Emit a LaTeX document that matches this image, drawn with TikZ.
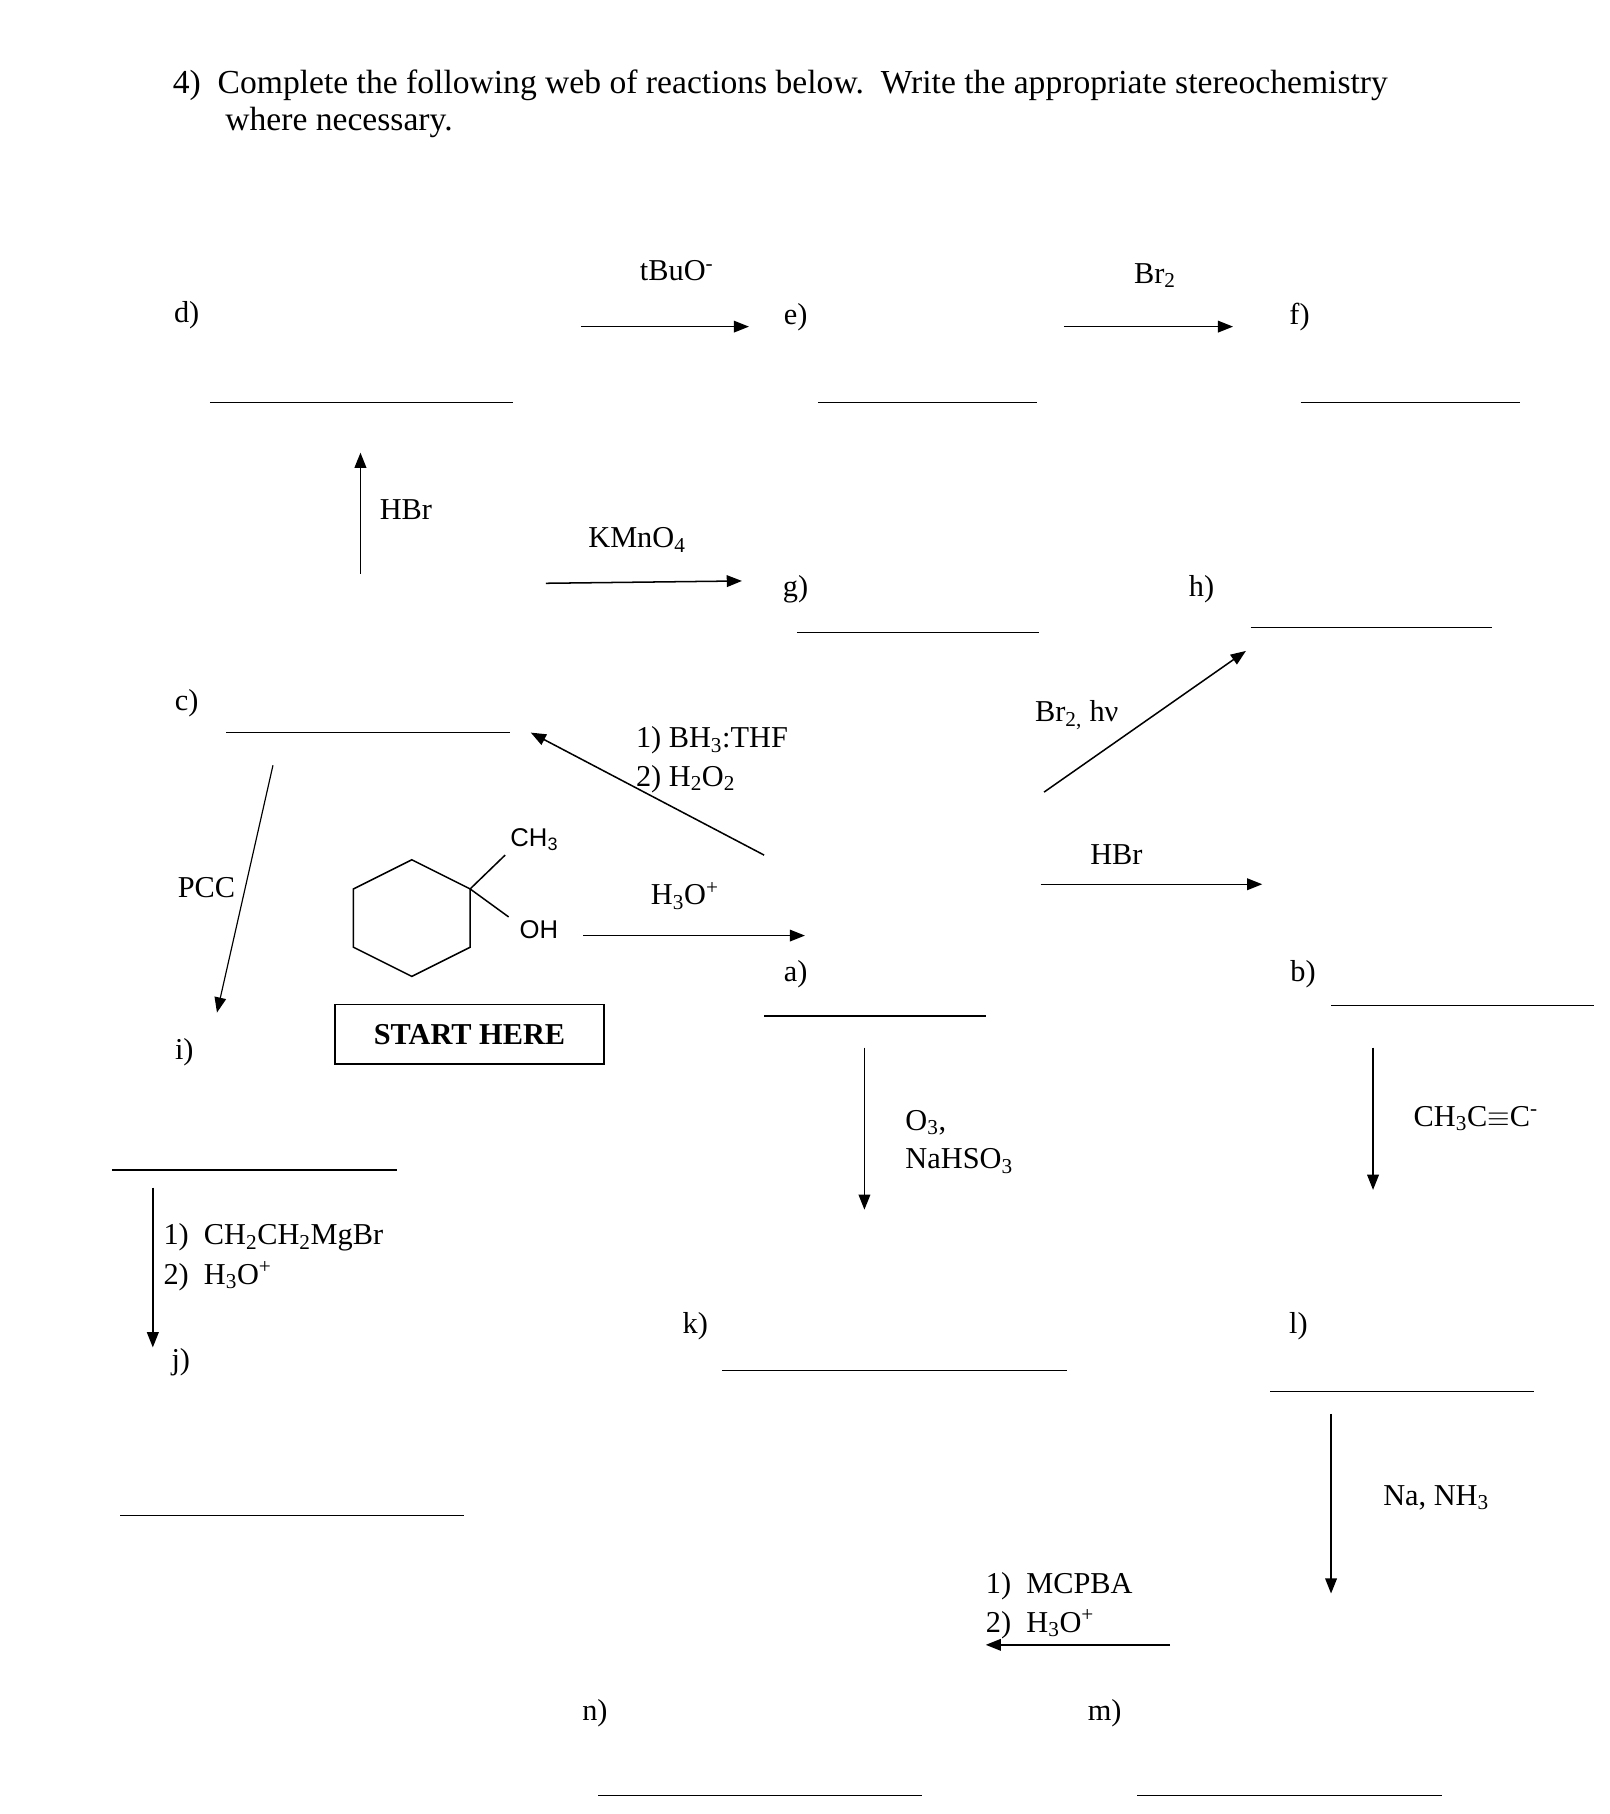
\documentclass[tikz,border=0pt]{standalone}
\usepackage{fontspec}
\setmainfont{Liberation Serif}
\newfontfamily\chemsans{Liberation Sans}
\usetikzlibrary{arrows.meta}
\newcommand{\sbs}[1]{\textsubscript{#1}}
\newcommand{\sps}[1]{\textsuperscript{#1}}
\begin{document}
\begin{tikzpicture}[x=1pt,y=-1pt,
  t/.style={font=\fontsize{28.8}{32}\selectfont,inner sep=0pt},
  lb/.style={font=\fontsize{26}{30}\selectfont,inner sep=0pt},
  ch/.style={font=\chemsans\fontsize{22}{26}\selectfont,inner sep=0pt},
  ar/.style={line width=1.3pt,-{Triangle[length=13pt,width=10pt]}},
  bl/.style={line width=1.3pt}]
\useasboundingbox (0,0) rectangle (1380,1555);
\node[t,anchor=base west] (tt1) at (148,80) {4)\ \ Complete the following web of reactions below.\ \ Write the appropriate stereochemistry};
\node[t,anchor=base west] (tt2) at (193,112) {where necessary.};
% blanks and labels
\node[lb] (ld) at (160,270) {d)};
\coordinate (d1) at (180,345); \coordinate (d2) at (440,345); \draw[bl] (d1)--(d2);
\node[lb] (le) at (682,272) {e)};
\coordinate (e1) at (701,345); \coordinate (e2) at (889,345); \draw[bl] (e1)--(e2);
\node[lb] (lf) at (1114,272) {f)};
\coordinate (f1) at (1115,345); \coordinate (f2) at (1303,345); \draw[bl] (f1)--(f2);
\node[lb] (lg) at (682,505) {g)};
\coordinate (g1) at (683,542); \coordinate (g2) at (891,542); \draw[bl] (g1)--(g2);
\node[lb] (lh) at (1030,505) {h)};
\coordinate (h1) at (1072,538); \coordinate (h2) at (1279,538); \draw[bl] (h1)--(h2);
\node[lb] (lc) at (160,603) {c)};
\coordinate (c1) at (194,628); \coordinate (c2) at (437,628); \draw[bl] (c1)--(c2);
\node[lb] (la) at (682,835) {a)};
\coordinate (a1) at (655,871); \coordinate (a2) at (845,871); \draw[bl] (a1)--(a2);
\node[lb] (li) at (158,902) {i)};
\coordinate (i1) at (96,1003); \coordinate (i2) at (340,1003); \draw[bl] (i1)--(i2);
\node[lb] (lbb) at (1117,835) {b)};
\coordinate (b1) at (1141,862); \coordinate (b2) at (1366,862); \draw[bl] (b1)--(b2);
\node[lb] (lj) at (155,1168) {j)};
\coordinate (j1) at (103,1299); \coordinate (j2) at (398,1299); \draw[bl] (j1)--(j2);
\node[lb] (lk) at (596,1137) {k)};
\coordinate (k1) at (619,1175); \coordinate (k2) at (915,1175); \draw[bl] (k1)--(k2);
\node[lb] (ll) at (1113,1137) {l)};
\coordinate (l1) at (1089,1193); \coordinate (l2) at (1315,1193); \draw[bl] (l1)--(l2);
\node[lb] (ln) at (510,1469) {n)};
\coordinate (n1) at (513,1539); \coordinate (n2) at (790,1539); \draw[bl] (n1)--(n2);
\node[lb] (lm) at (947,1469) {m)};
\coordinate (m1) at (975,1539); \coordinate (m2) at (1236,1539); \draw[bl] (m1)--(m2);
% arrows
\coordinate (r1s) at (498,280); \coordinate (r1e) at (642,280); \draw[ar] (r1s)--(r1e);
\node[lb] (tbu) at (580,232) {tBuO\sps{-}};
\coordinate (r2s) at (912,280); \coordinate (r2e) at (1057,280); \draw[ar] (r2s)--(r2e);
\node[lb] (br2) at (990,236) {Br\sbs{2}};
\coordinate (r3s) at (309,492); \coordinate (r3e) at (309,388); \draw[ar] (r3s)--(r3e);
\node[lb] (hbr1) at (348,437) {HBr};
\coordinate (r4s) at (468,500); \coordinate (r4e) at (636,498); \draw[ar] (r4s)--(r4e);
\node[lb] (kmn) at (546,463) {KMnO\sbs{4}};
\coordinate (r5s) at (655,733); \coordinate (r5e) at (455,628); \draw[ar] (r5s)--(r5e);
\node[lb,anchor=base west] (bh1) at (545,641) {1) BH\sbs{3}:THF};
\node[lb,anchor=base west] (bh2) at (545,674) {2) H\sbs{2}O\sbs{2}};
\coordinate (r6s) at (895,679); \coordinate (r6e) at (1068,558); \draw[ar] (r6s)--(r6e);
\node[lb] (brhv) at (923,613) {Br\sbs{2,} hν};
\coordinate (r7s) at (892,758); \coordinate (r7e) at (1082,758); \draw[ar] (r7s)--(r7e);
\node[lb] (hbr2) at (957,733) {HBr};
\coordinate (r8s) at (234,656); \coordinate (r8e) at (186,868); \draw[ar,line width=1pt] (r8s)--(r8e);
\node[lb] (pcc) at (177,761) {PCC};
\coordinate (r9s) at (500,802); \coordinate (r9e) at (690,802); \draw[ar] (r9s)--(r9e);
\node[lb] (h3o1) at (587,768) {H\sbs{3}O\sps{+}};
\coordinate (r10s) at (741,898); \coordinate (r10e) at (741,1037); \draw[ar] (r10s)--(r10e);
\node[lb,anchor=base west] (o3) at (776,969) {O\sbs{3},};
\node[lb,anchor=base west] (nah) at (776,1002) {NaHSO\sbs{3}};
\coordinate (r11s) at (1177,898); \coordinate (r11e) at (1177,1020); \draw[ar] (r11s)--(r11e);
\node[lb] (acet) at (1265,959) {CH\sbs{3}C$\equiv$C\sps{-}};
\coordinate (r12s) at (131,1018); \coordinate (r12e) at (131,1155); \draw[ar] (r12s)--(r12e);
\node[lb,anchor=base west] (g1t) at (140,1067) {1)\ \ CH\sbs{2}CH\sbs{2}MgBr};
\node[lb,anchor=base west] (g2t) at (140,1101) {2)\ \ H\sbs{3}O\sps{+}};
\coordinate (r13s) at (1141,1212); \coordinate (r13e) at (1141,1366); \draw[ar] (r13s)--(r13e);
\node[lb] (nanh) at (1231,1284) {Na, NH\sbs{3}};
\coordinate (r14s) at (1003,1410); \coordinate (r14e) at (845,1410); \draw[ar] (r14s)--(r14e);
\node[lb,anchor=base west] (mc1) at (845,1366) {1)\ \ MCPBA};
\node[lb,anchor=base west] (mc2) at (845,1399) {2)\ \ H\sbs{3}O\sps{+}};
% molecule
\draw[line width=1.3pt] (403,762)--(403,812)--(353,837)--(303,812)--(303,762)--(353,737)--cycle;
\node[ch] (me) at (458,720) {CH\textsubscript{3}};
\node[ch] (oh) at (462,797) {OH};
\draw[line width=1.3pt] (403,762)--(433,733);
\draw[line width=1.3pt] (403,762)--(436,786);
\node[draw,line width=1.5pt,minimum width=231pt,minimum height=51pt,inner sep=0pt,font=\bfseries\fontsize{26}{30}\selectfont] (start) at (402.5,886.5) {START HERE};
\end{tikzpicture}
\end{document}
